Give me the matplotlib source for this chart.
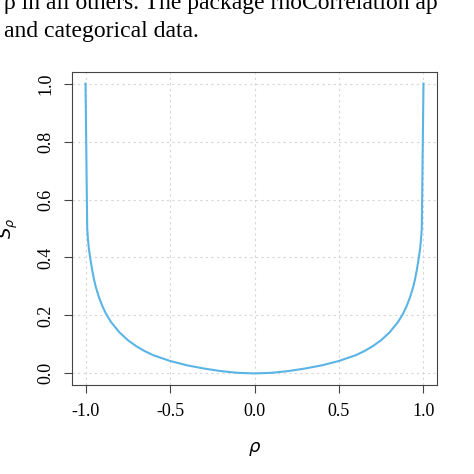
import numpy as np
import matplotlib
matplotlib.use("Agg")
import matplotlib.pyplot as plt

# Valores (simetricos en rho)
rho_pos = [0.0, 0.1, 0.2, 0.3, 0.4, 0.5, 0.6, 0.65, 0.7, 0.75, 0.8, 0.85, 0.88,
           0.9, 0.92, 0.94, 0.95, 0.96, 0.97, 0.98, 0.985, 0.99, 1.0]
s_pos = [0.0, 0.002, 0.008, 0.017, 0.028, 0.043, 0.063, 0.077, 0.094, 0.115, 0.142,
         0.178, 0.207, 0.232, 0.262, 0.300, 0.325, 0.355, 0.39, 0.43, 0.46, 0.50, 1.0]
x_ticks = [-1.0, -0.5, 0.0, 0.5, 1.0]
y_ticks = [0.0, 0.2, 0.4, 0.6, 0.8, 1.0]

rho = np.concatenate([-np.array(rho_pos[::-1]), np.array(rho_pos[1:])])
s = np.concatenate([np.array(s_pos[::-1]), np.array(s_pos[1:])])

plt.rcParams['font.family'] = ['Liberation Serif', 'DejaVu Serif']
fig = plt.figure(figsize=(4.74, 4.74), dpi=100)
ax = fig.add_axes([72/474, 1 - 385/474, 365/474, 313/474])

ax.plot(rho, s, color='#5ab4e5', lw=1.5)
ax.set_xlim(-1.08, 1.08)
ax.set_ylim(-0.04, 1.04)
ax.set_xticks(x_ticks)
ax.set_xticklabels([f"{v:.1f}" for v in x_ticks])
ax.set_yticks(y_ticks)
ax.set_yticklabels([f"{v:.1f}" for v in y_ticks], rotation=90, va='center')
ax.tick_params(labelsize=13, length=6, color='#444444', pad=7)
ax.grid(True, ls=(0, (2, 3)), color='#d5d5d5', lw=0.8)
for sp in ax.spines.values():
    sp.set_color('#444444')
ax.set_xlabel(r'$\rho$', fontsize=13, labelpad=14)
ax.set_ylabel(r'$S_\rho$', fontsize=13, labelpad=12)

fig.text(4/474, 1 - 32/474, "and categorical data.", fontsize=17, va='center')
fig.text(4/474, 1 - 4/474, "ρ in all others. The package rhoCorrelation ap", fontsize=17, va='center')

fig.savefig("out.png", dpi=100)
